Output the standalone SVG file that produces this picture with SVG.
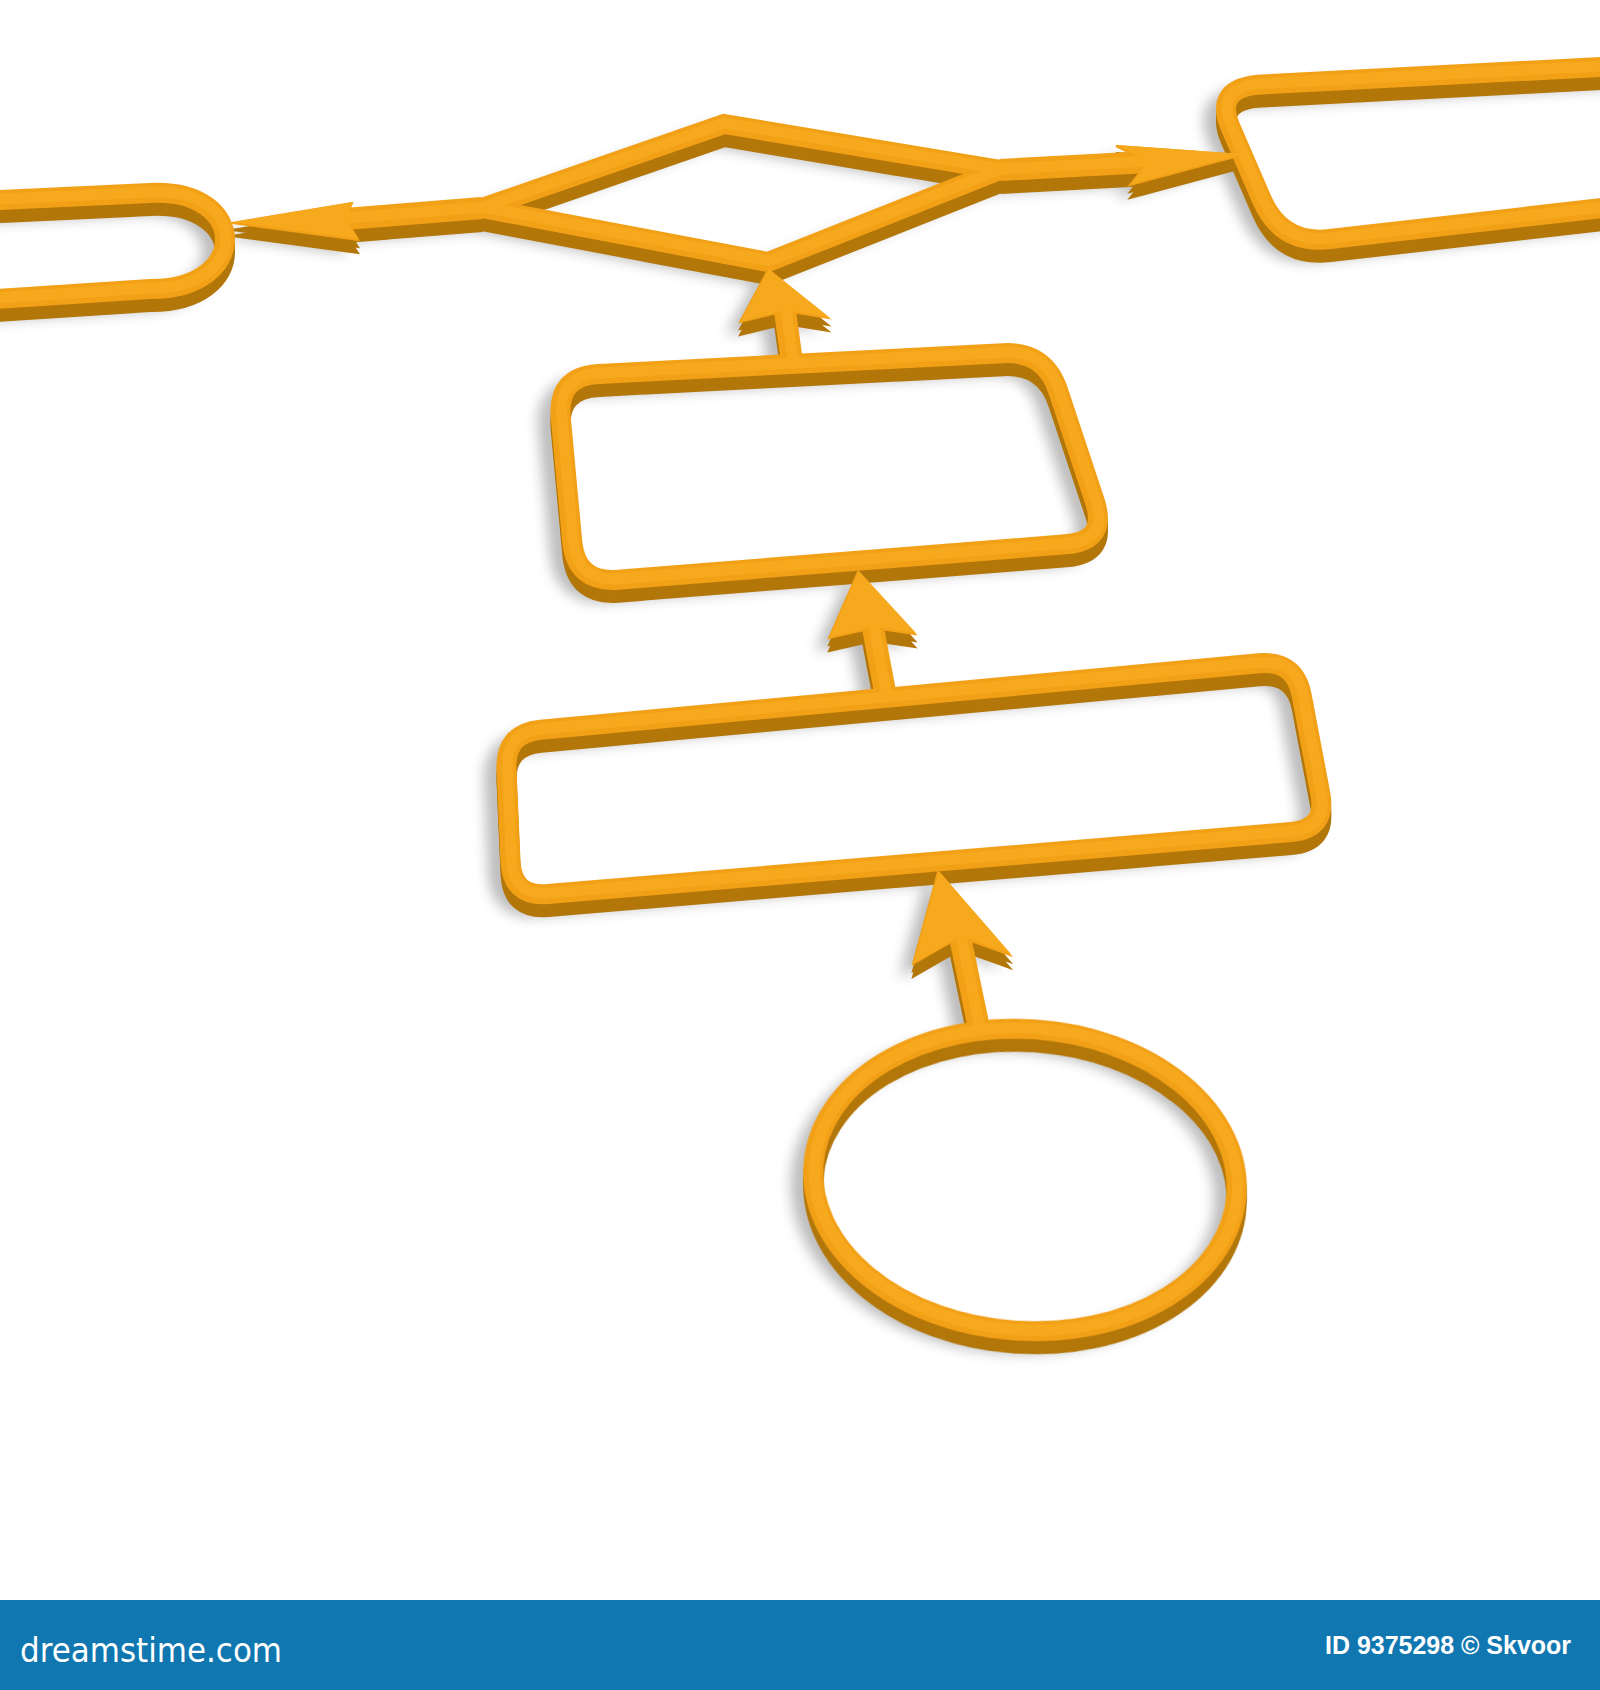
<svg xmlns="http://www.w3.org/2000/svg" xmlns:xlink="http://www.w3.org/1999/xlink" width="1600" height="1690" viewBox="0 0 1600 1690">
<style>
.top{color:#F2A016}
.hi{color:#F7A91E;--w:11px;--hw:0px}
.side{color:#B27609}
.shadow{color:#000;opacity:.28}
.ln{fill:none;stroke:currentColor;stroke-width:var(--w,20px);stroke-linejoin:miter;stroke-miterlimit:10;stroke-linecap:butt}
.sh{fill:none;stroke:currentColor;stroke-width:var(--w,22px);stroke-linecap:butt}
.hd{fill:currentColor;stroke:currentColor;stroke-width:var(--hw,2px);stroke-linejoin:miter}
.bar{fill:#1177B0}
.logo{font-family:"DejaVu Sans","Liberation Sans",sans-serif;font-size:34px;fill:#fff}
.credit{font-family:"Liberation Sans","DejaVu Sans",sans-serif;font-size:25px;font-weight:bold;fill:#fff}
</style>
<defs>
<filter id="soft" x="-10%" y="-10%" width="120%" height="120%"><feGaussianBlur stdDeviation="7"/></filter>
</defs>
<rect width="1600" height="1690" fill="#fff"/>
<use xlink:href="#diagram" href="#diagram" class="shadow" filter="url(#soft)" transform="translate(-12,12)"/>
<use xlink:href="#diagram" href="#diagram" class="side" transform="translate(0,13)"/>
<use xlink:href="#diagram" href="#diagram" class="side" transform="translate(0,7)"/>
<g class="top">
<g id="diagram">
<g id="connectors">
<path class="sh" d="M482,208 L345,219"/>
<polygon class="hd" points="232,223 352,203 345,220 358,240"/>
<path class="sh" d="M1000,170 L1148,162"/>
<polygon class="hd" points="1242,155 1116,146 1148,162 1130,185"/>
<path class="sh" d="M785,311 L792,362"/>
<polygon class="hd" points="768,270 740,322 785,311 828,318"/>
<path class="sh" d="M873,628 L886,697"/>
<polygon class="hd" points="858,572 829,638 873,628 915,634"/>
<path class="sh" d="M960,937 L979,1028"/>
<polygon class="hd" points="938,872 913,964 960,937 1010,955"/>
</g>
<g id="node-terminal-left">
<path class="ln" d="M-20,201 L150,193 C250,188 250,290 150,289 L-20,300"/>
</g>
<g id="node-decision">
<path class="ln" d="M482,208 L724,124 L1000,170 L768,262 Z"/>
</g>
<g id="node-terminal-right">
<path class="ln" d="M1620,66 L1262,84.5 Q1214,87 1230,126 L1262,200 Q1282,245 1330,239 L1620,206"/>
</g>
<g id="node-process-1">
<path class="ln" d="M598.9,373.9 L1003.1,353.2 Q1045,351 1058.2,390.9 L1094.8,501.1 Q1108,541 1066.1,544.3 L617.9,579.7 Q576,583 572.2,541.2 L560.8,417.8 Q557,376 598.9,373.9 Z"/>
</g>
<g id="node-process-2">
<path class="ln" d="M540.8,729.7 L1259.2,663.3 Q1295,660 1301.7,695.4 L1320.3,793.6 Q1327,829 1291.1,832 L547.9,894 Q512,897 510.5,861 L506.5,769 Q505,733 540.8,729.7 Z"/>
</g>
<g id="node-start">
<ellipse class="ln" cx="1025" cy="1180" rx="212" ry="151" transform="rotate(4 1025 1180)"/>
</g>
</g>
</g>
<use xlink:href="#diagram" href="#diagram" class="hi" transform="translate(1,-1)"/>
<g id="footer">
<rect class="bar" x="0" y="1600" width="1600" height="90"/>
<text class="logo" x="20" y="1662" textLength="262" lengthAdjust="spacingAndGlyphs">dreamstime.com</text>
<text class="credit" x="1325" y="1654" textLength="246" lengthAdjust="spacingAndGlyphs">ID 9375298 © Skvoor</text>
</g>
</svg>
